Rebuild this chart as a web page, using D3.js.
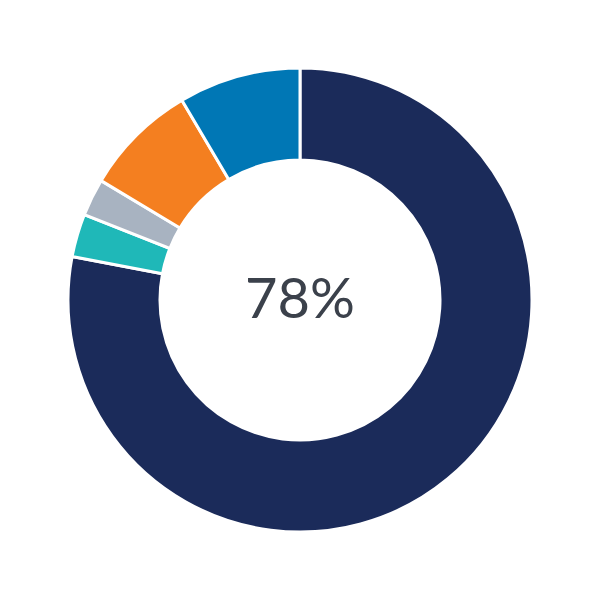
<!DOCTYPE html>
<html><head><meta charset="utf-8">
<script src="https://cdn.jsdelivr.net/npm/d3@7"></script>
<style>html,body{margin:0;padding:0;background:#fff;}</style>
</head><body>
<svg id="chart" width="600" height="600"></svg>
<script>
const categories = ["Navy", "Teal", "Gray", "Orange", "Blue"];
const values = [78, 3, 2.6, 7.9, 8.5];
const colors = ["#1b2b5a", "#1fb8b8", "#a8b3c1", "#f47f20", "#0077b5"];
const centerLabel = "78%";

const svg = d3.select("#chart");
const g = svg.append("g").attr("transform", "translate(300,300)");
const pie = d3.pie().sort(null).value(d => d.v);
const arc = d3.arc().innerRadius(140).outerRadius(232);
const data = categories.map((c, i) => ({c, v: values[i]}));
const color = d3.scaleOrdinal().domain(categories).range(colors);
g.selectAll("path").data(pie(data)).join("path")
  .attr("d", arc).attr("fill", d => color(d.data.c))
  .attr("stroke", "#fff").attr("stroke-width", 3);
g.append("text").attr("text-anchor", "middle").attr("y", 18)
  .attr("font-family", "Lato, sans-serif").attr("font-weight", 400)
  .attr("font-size", 56).attr("fill", "#3b414b").text(centerLabel);
</script>
</body></html>
